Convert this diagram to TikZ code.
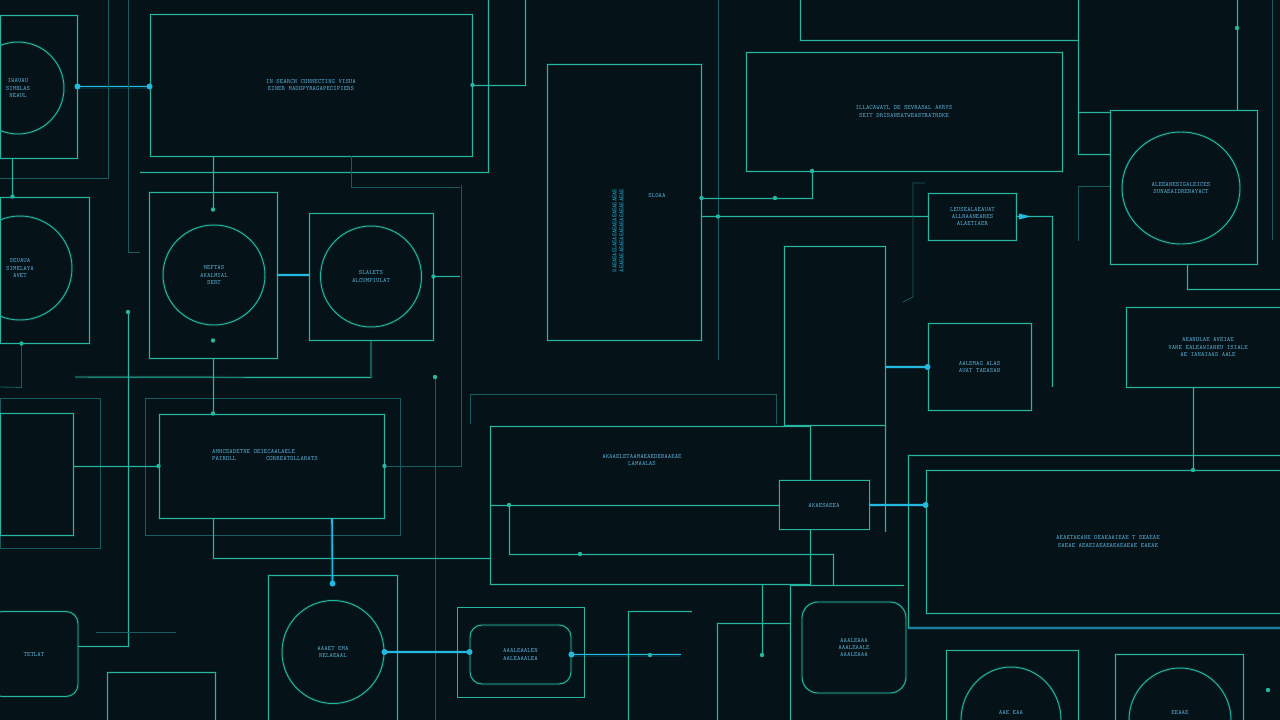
\documentclass[tikz,border=0pt]{standalone}
\usetikzlibrary{calc,shapes.geometric}
\definecolor{bg}{RGB}{5,18,24}
\definecolor{lc}{RGB}{38,182,160}
\definecolor{dc}{RGB}{24,92,95}
\definecolor{bc}{RGB}{35,185,225}
\definecolor{tc}{RGB}{85,168,205}
\tikzset{
  ln/.style={draw=lc,line width=0.95pt,preaction={draw=lc,line width=3pt,opacity=0.12}},
  dm/.style={draw=dc,line width=0.8pt},
  bl/.style={draw=bc,line width=1.6pt,preaction={draw=bc,line width=4pt,opacity=0.15}},
  txt/.style={text=tc,font=\ttfamily\fontsize{6.5}{7.2}\selectfont,align=center,inner sep=0pt},
  box/.style={rectangle,ln,inner sep=0pt,txt},
  dbox/.style={rectangle,dm,inner sep=0pt},
  rbox/.style={box,rounded corners=12pt},
  circ/.style={ellipse,ln,inner sep=0pt,txt},
}
\newcommand{\dt}[1]{\fill[lc] (#1) circle (2.2pt);}
\newcommand{\bdt}[1]{\fill[bc] (#1) circle (3pt);}
\begin{document}
\begin{tikzpicture}[x=1pt,y=-1pt]
\useasboundingbox (0,0) rectangle (1280,720);
\fill[bg] (0,0) rectangle (1280,720);
\clip (0,0) rectangle (1280,720);

% ---------- top left ----------
\node[box,minimum width=77,minimum height=143] (A) at (38.5,86.5) {};
\node[circ,minimum width=92,minimum height=92] (Ac) at (18,88) {IWAUAU\\SIMBLAS\\NEAUL};
\node[box,minimum width=322,minimum height=142] (B) at (311,85) {IN SEARCH CONNECTING VISUA\\EINER MADOPYRAGAPECIPIERS};
\draw[bl] (A.east) -- (A.east -| B.west);
\bdt{A.east} \bdt{A.east -| B.west}
\draw[dm] (108,0) -- (108,178) -- (0,178);
\draw[dm] (128,0) -- (128,252) -- (140,252);
\draw[ln] (B.east) -- (525,85) -- (525,0);
\dt{B.east}
\draw[ln] (488,0) -- (488,172) -- (140,172);

\node[box,minimum width=89,minimum height=146] (E) at (44.5,270) {};
\node[circ,minimum width=104,minimum height=104] (Ec) at (20,268) {SEUAUA\\SIMELAYA\\AVET};
\node[box,minimum width=128,minimum height=166] (C) at (213,275) {};
\node[circ,minimum width=102,minimum height=100] (Cc) at (214,275) {MEFTAS\\AKALMIAL\\SERT};
\node[box,minimum width=124,minimum height=127] (D) at (371,276.5) {};
\node[circ,minimum width=101,minimum height=101] (Dc) at (371,276.5) {SLALETS\\ALCUMPIULAT};

\draw[ln] (B.south -| C.north) -- ([yshift=-18pt]C.north);
\dt{[yshift=-18pt]C.north}
\draw[dm] (351,156) -- (351,187) -- (460,187);
\draw[ln] ([xshift=13pt]A.south west) -- ([xshift=13pt]E.north west);
\dt{[xshift=13pt]E.north west}
\draw[bl] (C.east) -- (C.east -| D.west);
\draw[ln] (D.east) -- ++(27,0);
\dt{D.east}
\draw[ln] (D.south) -- ++(0,37) -- (75,377);
\draw[dm] ([xshift=22pt]E.south west) -- ++(0,44) -- (0,387);
\dt{[xshift=22pt]E.south west}
\draw[dm] (435,377) -- (435,720);
\dt{435,377}

% ---------- left middle ----------
\node[dbox,minimum width=255,minimum height=137] (Fo) at (272.5,466.5) {};
\node[box,minimum width=225,minimum height=104] (F) at (271.5,466) {};
\node[txt,align=left] (Ft) at (265,455) {AMHCEADETNE OEIECAALAELE\\PAIRDLL \hspace{3.5em} CORREATOLLARATS};
\node[dbox,minimum width=100,minimum height=150] (Go) at (50,473) {};
\node[box,minimum width=73,minimum height=122] (G) at (36.5,474) {};
\draw[ln] (C.south) -- (C.south |- F.north);
\dt{[yshift=18pt]C.south} \dt{C.south |- F.north}
\draw[ln] (G.east |- F.west) -- (F.west);
\dt{F.west}
\draw[dm] (F.east) -- ++(77,0) -- ++(0,-281);
\dt{F.east}
\draw[ln] (128,312) -- (128,646) -- (78,646);
\dt{128,312}
\draw[dm] (96,632) -- (176,632);

% ---------- centre ----------
\node[box,minimum width=154,minimum height=276] (H) at (624,202) {};
\node[txt,rotate=90,text width=130pt,align=justify,text=bc,font=\ttfamily\fontsize{6}{7}\selectfont] (Hv) at (618,207) {SAEAEAELAEAEAEAEAEAEAEAEAE\\AEAEAEAEAEAEAEAEAEAEAEAEAE};
\node[txt] (Ht) at (657,195) {SLOAA};
\draw[dm] (718,0) -- (718,360);
\node[box,minimum width=316,minimum height=119] (I) at (904,111.5) {ILLACAWATL DE SEVRASAL AKRYS\\SEIT DRISANEATWEASTRATRDKE};
\draw[ln] (H.east |- 0,198) -- (812,198) -- (812,171);
\dt{H.east |- 0,198} \dt{775,198} \dt{812,171}
\node[box,minimum width=88,minimum height=47] (J) at (972.5,216.5) {LEUSEALAEAUAT\\ALLNAANEARES\\ALAETIAER};
\draw[ln] (H.east |- J.west) -- (J.west);
\dt{718,216.5}
\draw[ln] (J.east) -- (1052,216.5) -- (1052,387);
\fill[bc] (J.east) ++(2,-3) -- ++(12,3) -- ++(-12,3) -- cycle;
\draw[dm] (925,183) -- (913,183) -- (913,297) -- (903,302);

\node[box,minimum width=101,minimum height=179] (K) at (834.5,335.5) {};
\draw[ln] (K.south east) -- ++(0,107);
\node[box,minimum width=103,minimum height=87] (M) at (979.5,367) {AALEMAG ALAS\\AUAT TAEASAN};
\draw[bl] (K.east |- M.west) -- (M.west);
\bdt{M.west}

\draw[dm] (470,424) -- (470,394) -- (776,394) -- (776,424);
\node[box,minimum width=320,minimum height=158] (L) at (650,505) {};
\node[txt] (Lt) at (642,460) {AKAAELETAAMAEAEDENAAEAE\\LAMAALAS};
\node[box,fill=bg,minimum width=90,minimum height=49] (N) at (824,505) {AKAESAEEA};
\draw[ln] (L.west |- N.west) -- (N.west);
\dt{509,505}
\draw[ln] (509,505) -- (509,554) -- (833,554) -- (833,585);
\dt{580,554}
\draw[ln] (F.south -| 213,0) -- (213,558) -- (L.west |- 0,558);
\draw[ln] (762,584) -- (762,655);
\dt{762,655}

% ---------- right ----------
\draw[ln] (800,0) -- (800,40) -- (1078,40);
\draw[ln] (1078,0) -- (1078,154) -- (1111,154);
\draw[ln] (1078,112) -- (1111,112);
\draw[dm] (1111,186) -- (1078,186) -- (1078,241);
\draw[ln] (1237,0) -- (1237,110);
\dt{1237,28}
\draw[dm] (1272,0) -- (1272,240);
\node[box,minimum width=147,minimum height=154] (Q) at (1183.5,187) {};
\node[circ,minimum width=118,minimum height=112] (Qc) at (1181,188) {ALEEANESIGALEICES\\SUNAEAIDRENAYACT};
\draw[ln] (Q.south -| 1187,0) -- (1187,289) -- (1280,289);
\node[box,minimum width=164,minimum height=80] (R) at (1208,347) {AEANOLAE AVEIAE\\VANE EALEAWIANEU ISIALE\\AE IANAIAAS AALE};
\draw[ln] (R.south -| 1193,0) -- (1193,470);
\dt{1193,470}
\draw[ln] (1280,455) -- (908,455) -- (908,628);
\draw[bl,opacity=0.6] (908,628) -- (1280,628);
\node[box,minimum width=364,minimum height=143] (P) at (1108,541.5) {AEAETAEANE DEAEAAIEAE T EEAEAE\\SAEAE AEAEIAEAEAEAEAEAE EAEAE};
\draw[bl] (N.east) -- (N.east -| P.west);
\bdt{N.east -| P.west}

% ---------- bottom ----------
\node[rbox,minimum width=88,minimum height=85] (S) at (34,654) {TETLAT};
\node[box,minimum width=108,minimum height=60] (T) at (161,702) {};
\node[box,minimum width=129,minimum height=160] (U) at (332.5,655) {};
\node[circ,minimum width=102,minimum height=103] (Uc) at (333,652) {AAAET EMA\\NELAEAAL};
\draw[bl] (332,518) -- ([yshift=-9pt]U.north);
\bdt{[yshift=-9pt]U.north}
\node[dbox,draw=lc,minimum width=127,minimum height=90] (Vo) at (520.5,652) {};
\node[rbox,minimum width=101,minimum height=59] (V) at (520.5,654.5) {AAALEAALEN\\AALEAAALEA};
\draw[bl] (Uc.east) -- (Uc.east -| V.west);
\bdt{Uc.east} \bdt{Uc.east -| V.west}
\draw[bl] (V.east) -- ++(110,0);
\bdt{V.east} \dt{650,655}
\draw[ln] (628,720) -- (628,611) -- (692,611);
\draw[ln] (717,720) -- (717,623) -- (790,623);
\draw[ln] (790,720) -- (790,585) -- (904,585);
\node[rbox,rounded corners=16pt,minimum width=104,minimum height=91] (X) at (854,647.5) {AAALEAAA\\AAALEAALE\\AAALEAAA};
\node[box,minimum width=132,minimum height=80] (Y1) at (1012,690) {};
\node[circ,minimum width=100,minimum height=106] (Y1c) at (1011,720) {};
\node[txt] (Y1t) at (1011,712) {AAE EAA};
\node[box,minimum width=128,minimum height=75] (Y2) at (1179,692) {};
\node[circ,minimum width=102,minimum height=104] (Y2c) at (1180,720) {};
\node[txt] (Y2t) at (1180,712) {EEAAE};
\dt{1268,690}
\end{tikzpicture}
\end{document}
